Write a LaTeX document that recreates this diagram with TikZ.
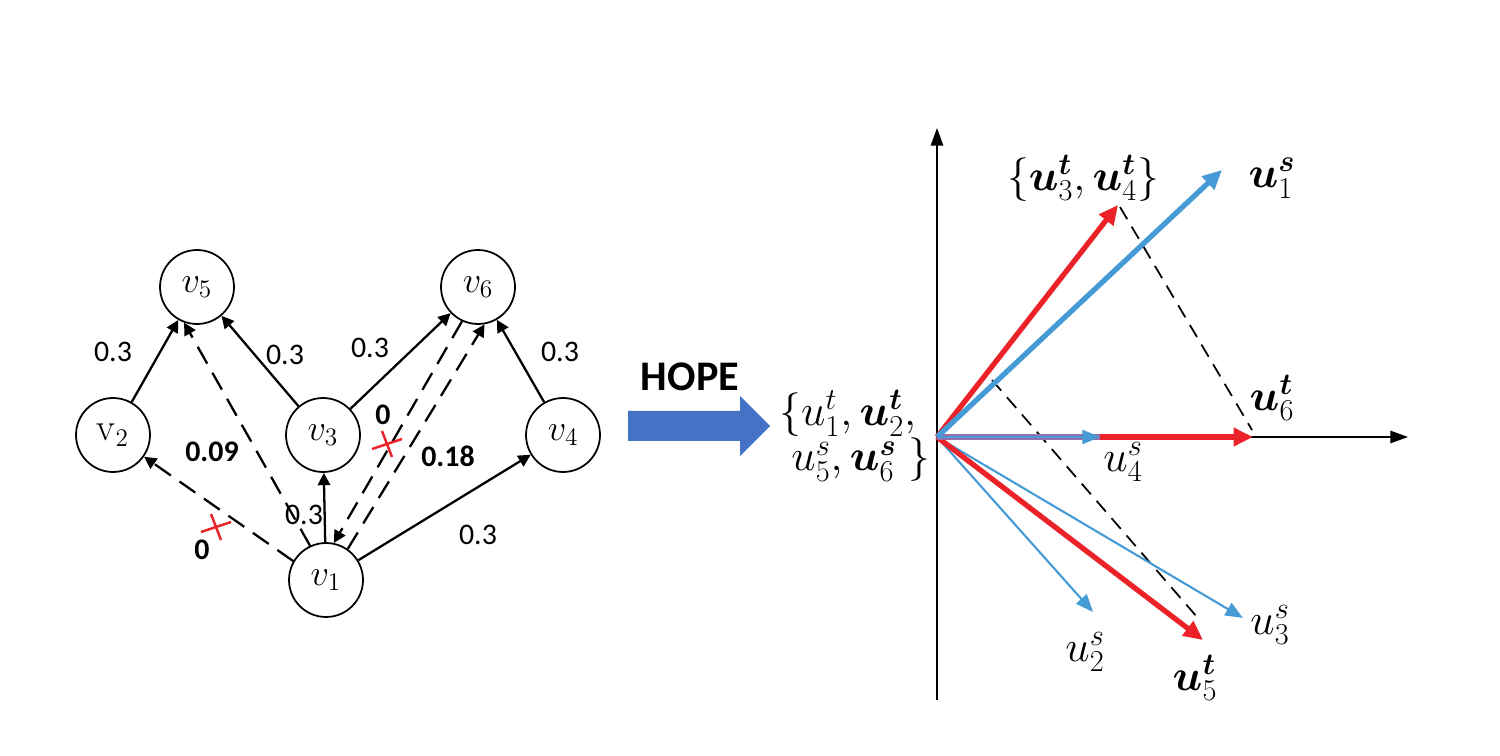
\documentclass[tikz,border=0pt]{standalone}
\usepackage{bm}
\usepackage{fontspec}
\setsansfont{Carlito}
\usetikzlibrary{arrows.meta}
\definecolor{hopeblue}{RGB}{68,114,196}
\definecolor{vred}{RGB}{235,35,40}
\definecolor{vblue}{RGB}{70,155,215}
\definecolor{vpurple}{RGB}{150,110,170}
\begin{document}
\begin{tikzpicture}[x=0.02cm,y=-0.02cm,
  vtx/.style={circle,draw,line width=1pt,minimum size=1.48cm,inner sep=0pt,font=\fontsize{22}{26}\selectfont},
  sol/.style={line width=1.3pt,-{Triangle[length=7pt,width=7pt]}},
  dsh/.style={line width=1.3pt,dash pattern=on 11pt off 6pt,-{Triangle[length=7pt,width=7pt]}},
  lab/.style={font=\sffamily\fontsize{17}{19}\selectfont},
  blab/.style={font=\sffamily\bfseries\fontsize{17}{19}\selectfont},
  redv/.style={draw=vred,line width=3pt,-{Triangle[length=11pt,width=10pt]}},
  bluv/.style={draw=vblue,line width=3pt,-{Triangle[length=11pt,width=10pt]}},
  blut/.style={draw=vblue,line width=1.2pt,-{Triangle[length=10pt,width=8pt]}},
  xmark/.style={draw=vred,line width=1.4pt},
  vlab/.style={font=\fontsize{24}{28}\selectfont}]
\useasboundingbox (0,0) rectangle (1500,756);
% nodes
\node[vtx] (v5) at (197,287) {$v_5$};
\node[vtx] (v6) at (478,287) {$v_6$};
\node[vtx] (v2) at (113,435) {v$_2$};
\node[vtx] (v3) at (323,435) {$v_3$};
\node[vtx] (v4) at (563,435) {$v_4$};
\node[vtx] (v1) at (326,580) {$v_1$};
% solid edges
\draw[sol] (v2) -- (v5);
\draw[sol] (v3) -- (v5);
\draw[sol] (v3) -- (v6);
\draw[sol] (v4) -- (v6);
\draw[sol] (v1) -- (v3);
\draw[sol] (v1) -- (v4);
% dashed edges
\draw[dsh] (v1.150) -- (v2);
\draw[dsh] (v1.115) -- (v5.250);
\draw[dsh] (v6.245) -- (v1.78);
\draw[dsh] (v1.55) -- (v6.280);
% labels
\node[lab] (l1) at (113,352) {0.3};
\node[lab] (l2) at (285,355) {0.3};
\node[lab] (l3) at (370,348) {0.3};
\node[lab] (l4) at (560,352) {0.3};
\node[lab] (l5) at (304,515) {0.3};
\node[lab] (l6) at (478,535) {0.3};
\node[blab] (b1) at (202,550) {0};
\node[blab] (b2) at (212,452) {0.09};
\node[blab] (b3) at (383,415) {0};
\node[blab] (b4) at (448,456) {0.18};
% red crosses
\coordinate (x1) at (216,527);
\coordinate (x2) at (387,444);
\draw[xmark] ([shift={(-15,5)}]x1) -- ([shift={(15,-5)}]x1);
\draw[xmark] ([shift={(-5,-13)}]x1) -- ([shift={(5,13)}]x1);
\draw[xmark] ([shift={(-15,5)}]x2) -- ([shift={(15,-5)}]x2);
\draw[xmark] ([shift={(-5,-13)}]x2) -- ([shift={(5,13)}]x2);
% HOPE arrow
\fill[hopeblue] (628,411) -- (740,411) -- (740,396) -- (770,426) -- (740,456) -- (740,441) -- (628,441) -- cycle;
\node[font=\sffamily\bfseries\fontsize{24}{28}\selectfont] (hope) at (690,377) {HOPE};
% axes
\coordinate (O) at (937,437);
\coordinate (ytop) at (937,128);
\coordinate (ybot) at (937,700);
\coordinate (xend) at (1408,437);
\draw[line width=1pt,-{Triangle[length=10pt,width=7pt]}] (ybot) -- (ytop);
\draw[line width=1pt,-{Triangle[length=10pt,width=7pt]}] (O) -- (xend);
% dashed projections
\coordinate (d1a) at (1120,207);
\coordinate (d1b) at (1252,430);
\coordinate (d2a) at (992,380);
\coordinate (d2b) at (1197,617);
\draw[line width=1pt,dash pattern=on 8pt off 5pt] (d1a) -- (d1b);
\draw[line width=1pt,dash pattern=on 8pt off 5pt] (d2a) -- (d2b);
% vectors
\coordinate (t34) at (1118,205);
\coordinate (s1) at (1222,170);
\coordinate (t6) at (1253,437);
\coordinate (s4) at (1100,437);
\coordinate (s2) at (1093,612);
\coordinate (t5) at (1203,640);
\coordinate (s3) at (1243,618);
\draw[blut] (O) -- (s2);
\draw[blut] (O) -- (s3);
\draw[redv] (O) -- (t5);
\draw[redv] (O) -- (t6);
\draw[draw=vpurple,line width=3pt] (O) -- (s4);
\draw[blut] (O) -- (s4);
\draw[redv] (O) -- (t34);
\draw[bluv] (O) -- (s1);
% vector labels
\node[vlab] (lt34) at (1083,178) {$\{\bm{u}_3^{\bm{t}},\bm{u}_4^{\bm{t}}\}$};
\node[vlab] (ls1) at (1272,178) {$\bm{u}_1^{\bm{s}}$};
\node[vlab] (lt6) at (1272,398) {$\bm{u}_6^{\bm{t}}$};
\node[vlab] (ls4) at (1123,462) {$u_4^s$};
\node[vlab] (ls2) at (1085,652) {$u_2^s$};
\node[vlab] (lt5) at (1195,678) {$\bm{u}_5^{\bm{t}}$};
\node[vlab] (ls3) at (1270,625) {$u_3^s$};
\node[vlab,align=left] (lset) at (855,436) {$\{u_1^t,\bm{u}_2^{\bm{t}},$\\[-2pt]$\;u_5^s,\bm{u}_6^{\bm{s}}\;\}$};
\end{tikzpicture}
\end{document}
